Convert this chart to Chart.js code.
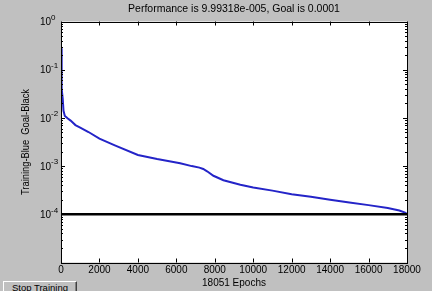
<!DOCTYPE html>
<html>
<head>
<meta charset="utf-8">
<script src="https://cdn.jsdelivr.net/npm/chart.js@4.4.1/dist/chart.umd.min.js"></script>
<style>
  html,body{margin:0;padding:0;background:#c0c0c0;overflow:hidden}
  #wrap{position:relative;width:432px;height:291px}
  #stop{position:absolute;left:3px;top:281px;width:74px;height:14px;padding:0 0 2px 0;
    font:9.5px "Liberation Sans",Arial,sans-serif;color:#000;background:#c0c0c0;
    border:1px solid;border-color:#fff #404040 #404040 #fff;box-shadow:inset -1px -1px 0 #808080;text-align:center;line-height:11px}
</style>
</head>
<body>
<div id="wrap">
  <canvas id="c" width="432" height="291"></canvas>
  <button id="stop">Stop Training</button>
</div>
<script>
// ─── DATA ───────────────────────────────────────────────────────────
const epochs = [0, 20, 50, 90, 130, 200, 340, 500, 750, 1000, 1430, 2000, 2800, 4000, 5000, 6200, 6800, 7200, 7400, 7600, 7930, 8450, 9330, 10000, 11000, 12000, 13000, 14000, 15000, 16000, 17000, 17600, 17900, 18051];
const perf   = [0.28, 0.1, 0.04, 0.025, 0.014, 0.011, 0.0098, 0.0088, 0.0071, 0.0063, 0.0051, 0.0037, 0.0027, 0.0017, 0.0014, 0.00115, 0.001, 0.00093, 0.00087, 0.00078, 0.00063, 0.00051, 0.00041, 0.00036, 0.00031, 0.00026, 0.00023, 0.0002, 0.000175, 0.000155, 0.000135, 0.00012, 0.000108, 0.0000993];
const goal = 0.0001;
const goalX = [0, 18051];
const xTicks = [0, 2000, 4000, 6000, 8000, 10000, 12000, 14000, 16000, 18000];
const yDecades = [0, -1, -2, -3, -4];
const titleText = 'Performance is 9.99318e-005, Goal is 0.0001';
const xLabel = '18051 Epochs';
const yLabel = 'Training-Blue  Goal-Black';

const FONT = '"Liberation Sans", Arial, sans-serif';

// matlab style frame, inward ticks, 10^n labels, title
const matlabAxes = {
  id:'matlabAxes',
  afterDraw(chart){
    const {ctx, chartArea:a, scales:{x,y}} = chart;
    ctx.save();
    ctx.strokeStyle='#000';ctx.lineWidth=1;
    ctx.strokeRect(Math.round(a.left)+0.5, Math.round(a.top)+0.5, Math.round(a.right-a.left), Math.round(a.bottom-a.top));
    ctx.beginPath();
    xTicks.forEach(v=>{
      const px=Math.round(x.getPixelForValue(v))+0.5;
      ctx.moveTo(px,a.bottom);ctx.lineTo(px,a.bottom-4);
      ctx.moveTo(px,a.top);ctx.lineTo(px,a.top+4);
    });
    for(let d=-5; d<0; d++){
      for(let m=1; m<=9; m++){
        if(m===1 && d===-5) continue;
        const py=Math.round(y.getPixelForValue(m*Math.pow(10,d)))+0.5;
        const len = m===1?4:2;
        ctx.moveTo(a.left,py);ctx.lineTo(a.left+len,py);
        ctx.moveTo(a.right,py);ctx.lineTo(a.right-len,py);
      }
    }
    ctx.stroke();
    // y decade labels
    ctx.fillStyle='#000';
    yDecades.forEach(d=>{
      const py=y.getPixelForValue(Math.pow(10,d));
      ctx.font='10px '+FONT;ctx.textAlign='right';ctx.textBaseline='middle';
      ctx.fillText('10', a.left-10, py+1);
      ctx.font='8px '+FONT;ctx.textAlign='left';
      ctx.fillText(String(d), a.left-10, py-4);
    });
    // title
    ctx.font='10.5px '+FONT;ctx.textAlign='center';ctx.textBaseline='middle';
    ctx.fillText(titleText, (a.left+a.right)/2, 9);
    // y label, squeezed a bit like the narrow system font
    ctx.font='10px '+FONT;
    const w=ctx.measureText(yLabel).width;
    ctx.translate(26,(a.top+a.bottom)/2);ctx.rotate(-Math.PI/2);
    ctx.scale(Math.min(1,106/w),1);
    ctx.fillText(yLabel,0,0);
    ctx.restore();
  }
};

new Chart(document.getElementById('c'),{
  type:'line',
  data:{datasets:[
    {data:goalX.map(v=>({x:v,y:goal})),borderColor:'#000',borderWidth:2.5,pointRadius:0},
    {data:epochs.map((e,i)=>({x:e,y:perf[i]})),borderColor:'#2424c8',borderWidth:2,pointRadius:0,tension:0}
  ]},
  options:{
    responsive:false,animation:false,devicePixelRatio:1,
    layout:{padding:{left:0,top:21.5,right:25,bottom:0}},
    plugins:{legend:{display:false},tooltip:{enabled:false}},
    scales:{
      x:{type:'linear',min:0,max:18000,
        grid:{display:false,drawTicks:false},border:{display:false},
        ticks:{stepSize:2000,autoSkip:false,includeBounds:false,color:'#000',font:{family:FONT,size:10},padding:2,maxRotation:0,
          callback:v=>String(v)},
        title:{display:true,text:xLabel,color:'#000',font:{family:FONT,size:10},padding:{top:0,bottom:2}},
        afterFit:s=>{s.height=28.5;}
      },
      y:{type:'logarithmic',min:1e-5,max:1,
        grid:{display:false},border:{display:false},
        ticks:{display:false},
        afterFit:s=>{s.width=61;}
      }
    }
  },
  plugins:[{id:'bg',beforeDraw(c){const {ctx,chartArea:a}=c;ctx.save();ctx.fillStyle='#fff';ctx.fillRect(a.left,a.top,a.right-a.left,a.bottom-a.top);ctx.restore();}},matlabAxes]
});
</script>
</body>
</html>
